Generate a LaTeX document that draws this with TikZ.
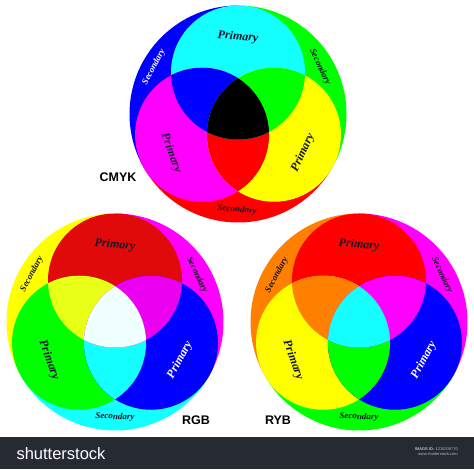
\documentclass[tikz,border=0pt]{standalone}
\usepackage{fontspec}
\setmainfont{Liberation Serif}
\setsansfont{Liberation Sans}
\usepackage{tikz}
\usetikzlibrary{positioning}
\definecolor{pcyan}{RGB}{20,255,255}
\definecolor{pmagenta}{RGB}{255,0,255}
\definecolor{pyellow}{RGB}{255,255,0}
\definecolor{pred}{RGB}{255,0,0}
\definecolor{pgreen}{RGB}{0,255,0}
\definecolor{pblue}{RGB}{0,0,255}
\definecolor{porange}{RGB}{255,128,0}
\definecolor{lightred}{RGB}{225,10,10}
\definecolor{lightyellow}{RGB}{230,255,20}
\definecolor{lightmagenta}{RGB}{235,0,240}
\definecolor{lightwhite}{RGB}{240,255,255}
\definecolor{labelink}{RGB}{20,20,40}
\definecolor{barbg}{RGB}{38,42,51}
\definecolor{bargrey}{RGB}{180,185,195}

\newcommand{\bigrad}{108.5pt}
\newcommand{\smallrad}{67pt}
\newcommand{\shiftrad}{41.5pt}

% one wheel, colours set with \colorlet before it is called
\newcommand{\colourwheel}{%
    % outer ring
    \fill[ringL] (0,0) -- (90:\bigrad) arc[start angle=90, end angle=210, radius=\bigrad] -- cycle;
    \fill[ringB] (0,0) -- (210:\bigrad) arc[start angle=210, end angle=330, radius=\bigrad] -- cycle;
    \fill[ringR] (0,0) -- (330:\bigrad) arc[start angle=330, end angle=450, radius=\bigrad] -- cycle;
    % primaries
    \fill[primT] (90:\shiftrad) circle (\smallrad);
    \fill[primL] (210:\shiftrad) circle (\smallrad);
    \fill[primR] (330:\shiftrad) circle (\smallrad);
    % overlaps
    \begin{scope}
        \clip (210:\shiftrad) circle (\smallrad);
        \fill[mixB] (330:\shiftrad) circle (\smallrad);
    \end{scope}
    \begin{scope}
        \clip (90:\shiftrad) circle (\smallrad);
        \fill[mixTL] (210:\shiftrad) circle (\smallrad);
        \fill[mixTR] (330:\shiftrad) circle (\smallrad);
        \clip (210:\shiftrad) circle (\smallrad);
        \fill[mixC] (330:\shiftrad) circle (\smallrad);
    \end{scope}
}

\tikzset{
    prim/.style={labelink, font=\fontsize{12}{12}\selectfont\bfseries\itshape},
    secnd/.style={labelink, font=\fontsize{9}{9}\selectfont\bfseries\itshape},
    wheeltitle/.style={font=\sffamily\bfseries\fontsize{12.5}{12.5}\selectfont}
}

\begin{document}
\begin{tikzpicture}[x=1pt, y=1pt]
    \useasboundingbox (0,0) rectangle (474,469);
    \fill[white] (0,0) rectangle (474,469);

    % CMYK wheel
    \begin{scope}[shift={(238,355)}]
        \colorlet{ringL}{pblue}\colorlet{ringR}{pgreen}\colorlet{ringB}{pred}
        \colorlet{primT}{pcyan}\colorlet{primL}{pmagenta}\colorlet{primR}{pyellow}
        \colorlet{mixTL}{pblue}\colorlet{mixTR}{pgreen}\colorlet{mixB}{pred}
        \colorlet{mixC}{black}
        \colourwheel
        \node[prim, rotate=-5] (cmyk-top) at (0,77) {Primary};
        \node[prim, rotate=-70] (cmyk-left) at (-67,-39) {Primary};
        \node[prim, rotate=65] (cmyk-right) at (65,-39) {Primary};
        \node[secnd, white, rotate=62] (cmyk-tl) at (-84,47) {Secondary};
        \node[secnd, rotate=-65] (cmyk-tr) at (82,47) {Secondary};
        \node[secnd, rotate=-5] (cmyk-b) at (-1,-96) {Secondary};
    \end{scope}
    \node[wheeltitle] (cmyk) at (118,292) {CMYK};

    % RGB wheel
    \begin{scope}[shift={(115,147)}]
        \colorlet{ringL}{pyellow}\colorlet{ringR}{pmagenta}\colorlet{ringB}{pcyan}
        \colorlet{primT}{lightred}\colorlet{primL}{pgreen}\colorlet{primR}{pblue}
        \colorlet{mixTL}{lightyellow}\colorlet{mixTR}{lightmagenta}\colorlet{mixB}{pcyan}
        \colorlet{mixC}{lightwhite}
        \colourwheel
        \node[prim, rotate=-5] (rgb-top) at (0,77) {Primary};
        \node[prim, rotate=-70] (rgb-left) at (-66,-38) {Primary};
        \node[prim, white, rotate=62] (rgb-right) at (65,-38) {Primary};
        \node[secnd, rotate=62] (rgb-tl) at (-83,48) {Secondary};
        \node[secnd, rotate=-65] (rgb-tr) at (82,47) {Secondary};
        \node[secnd, rotate=-3] (rgb-b) at (0,-95) {Secondary};
    \end{scope}
    \node[wheeltitle] (rgb) at (196,49) {RGB};

    % RYB wheel
    \begin{scope}[shift={(359,147)}]
        \colorlet{ringL}{porange}\colorlet{ringR}{pmagenta}\colorlet{ringB}{pgreen}
        \colorlet{primT}{pred}\colorlet{primL}{pyellow}\colorlet{primR}{pblue}
        \colorlet{mixTL}{porange}\colorlet{mixTR}{pmagenta}\colorlet{mixB}{pgreen}
        \colorlet{mixC}{pcyan}
        \colourwheel
        \node[prim, rotate=-5] (ryb-top) at (0,77) {Primary};
        \node[prim, rotate=-70] (ryb-left) at (-66,-38) {Primary};
        \node[prim, white, rotate=62] (ryb-right) at (65,-38) {Primary};
        \node[secnd, rotate=62] (ryb-tl) at (-82,47) {Secondary};
        \node[secnd, rotate=-65] (ryb-tr) at (83,47) {Secondary};
        \node[secnd, rotate=-3] (ryb-b) at (0,-95) {Secondary};
    \end{scope}
    \node[wheeltitle] (ryb) at (278,49) {RYB};

    % bottom bar
    \fill[barbg] (0,0) rectangle (474,32);
    \node[white, anchor=west, font=\sffamily\fontsize{16.5}{16.5}\selectfont] (brand) at (13,15) {shutterstock};
    \node[bargrey, anchor=east, font=\sffamily\fontsize{4}{4}\selectfont, inner sep=0pt] (imgid) at (458,20) {\textbf{IMAGE ID:} 1210208770};
    \node[bargrey, font=\sffamily\fontsize{4}{4}\selectfont, inner sep=0pt, below=2pt of imgid.south east, anchor=north east] (site) {www.shutterstock.com};
\end{tikzpicture}
\end{document}
